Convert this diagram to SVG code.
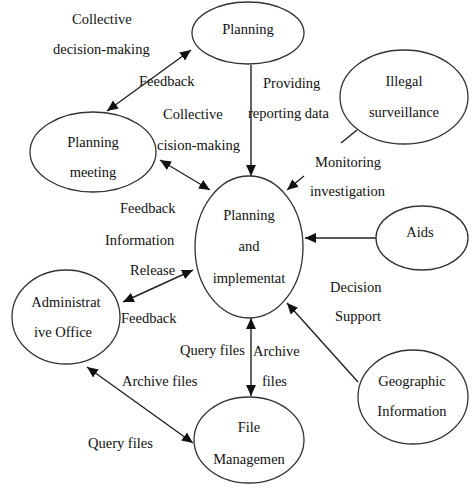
<svg xmlns="http://www.w3.org/2000/svg" width="474" height="496" viewBox="0 0 474 496">
<style>
.n{fill:#fff;stroke:#333;stroke-width:1.3}
.t{font-family:"Liberation Serif",serif;font-size:14.5px;fill:#111;text-anchor:middle}
.s{font-family:"Liberation Serif",serif;font-size:14.5px;fill:#111}
.c{stroke:#222;stroke-width:1.4;fill:none}
</style>
<defs>
<marker id="a" viewBox="0 0 10 10" refX="10" refY="5" markerWidth="11" markerHeight="11" markerUnits="userSpaceOnUse" orient="auto-start-reverse">
<path d="M0,0.5 L10,5 L0,9.5 Z" fill="#111"/>
</marker>
</defs>
<rect width="474" height="496" fill="#fff"/>
<g id="labels">
<text class="s" x="72" y="24" font-family="Liberation Serif">Collective</text>
<text class="s" x="53" y="54" font-family="Liberation Serif">decision-making</text>
<text class="s" x="139" y="86" font-family="Liberation Serif">Feedback</text>
<text class="s" x="163" y="119" font-family="Liberation Serif">Collective</text>
<text class="s" x="157" y="150" font-family="Liberation Serif">cision-making</text>
<text class="s" x="263" y="88" font-family="Liberation Serif">Providing</text>
<text class="s" x="248" y="118" font-family="Liberation Serif">reporting data</text>
<text class="s" x="315" y="167" font-family="Liberation Serif">Monitoring</text>
<text class="s" x="310" y="196" font-family="Liberation Serif">investigation</text>
<text class="s" x="120" y="213" font-family="Liberation Serif">Feedback</text>
<text class="s" x="105" y="245" font-family="Liberation Serif">Information</text>
<text class="s" x="130" y="275" font-family="Liberation Serif">Release</text>
<text class="s" x="121" y="323" font-family="Liberation Serif">Feedback</text>
<text class="s" x="330" y="292" font-family="Liberation Serif">Decision</text>
<text class="s" x="335" y="321" font-family="Liberation Serif">Support</text>
<text class="s" x="180" y="355" font-family="Liberation Serif">Query files</text>
<text class="s" x="253" y="356" font-family="Liberation Serif">Archive</text>
<text class="s" x="262" y="386" font-family="Liberation Serif">files</text>
<text class="s" x="122" y="386" font-family="Liberation Serif">Archive files</text>
<text class="s" x="88" y="448" font-family="Liberation Serif">Query files</text>
</g>
<g id="connectors">
<line class="c" x1="107" y1="111" x2="191" y2="50" marker-start="url(#a)" marker-end="url(#a)"/>
<line class="c" x1="251" y1="65" x2="251" y2="176" marker-end="url(#a)"/>
<line class="c" x1="160" y1="160" x2="210" y2="190" marker-start="url(#a)" marker-end="url(#a)"/>
<line class="c" x1="357" y1="130" x2="341" y2="143"/>
<line class="c" x1="304" y1="176" x2="287" y2="190" marker-end="url(#a)"/>
<line class="c" x1="377" y1="238" x2="305" y2="238" marker-end="url(#a)"/>
<line class="c" x1="358" y1="382" x2="287" y2="303" marker-end="url(#a)"/>
<line class="c" x1="251" y1="318" x2="251" y2="396" marker-start="url(#a)" marker-end="url(#a)"/>
<line class="c" x1="123" y1="302" x2="193" y2="270" marker-start="url(#a)" marker-end="url(#a)"/>
<line class="c" x1="87" y1="367" x2="193" y2="443" marker-start="url(#a)" marker-end="url(#a)"/>
</g>
<g id="planning">
<ellipse class="n" cx="248" cy="33" rx="56" ry="31"/>
<text class="t" x="248" y="34" font-family="Liberation Serif">Planning</text>
</g>
<g id="planning-meeting">
<ellipse class="n" cx="93" cy="152" rx="63" ry="40"/>
<text class="t" x="93" y="147" font-family="Liberation Serif">Planning</text>
<text class="t" x="93" y="177" font-family="Liberation Serif">meeting</text>
</g>
<g id="planning-implementation">
<ellipse class="n" cx="249" cy="247" rx="54" ry="71"/>
<text class="t" x="249" y="220" font-family="Liberation Serif">Planning</text>
<text class="t" x="249" y="251" font-family="Liberation Serif">and</text>
<text class="t" x="249" y="283" font-family="Liberation Serif">implementat</text>
</g>
<g id="illegal-surveillance">
<ellipse class="n" cx="404" cy="97" rx="64" ry="47"/>
<text class="t" x="404" y="86" font-family="Liberation Serif">Illegal</text>
<text class="t" x="404" y="117" font-family="Liberation Serif">surveillance</text>
</g>
<g id="aids">
<ellipse class="n" cx="422" cy="238" rx="46" ry="32"/>
<text class="t" x="420" y="237" font-family="Liberation Serif">Aids</text>
</g>
<g id="administrative-office">
<ellipse class="n" cx="66" cy="317" rx="54" ry="47"/>
<text class="t" x="66" y="307" font-family="Liberation Serif">Administrat</text>
<text class="t" x="63" y="337" font-family="Liberation Serif">ive Office</text>
</g>
<g id="file-management">
<ellipse class="n" cx="249" cy="440" rx="55" ry="43"/>
<text class="t" x="249" y="432" font-family="Liberation Serif">File</text>
<text class="t" x="249" y="464" font-family="Liberation Serif">Managemen</text>
</g>
<g id="geographic-information">
<ellipse class="n" cx="413" cy="397" rx="55" ry="47"/>
<text class="t" x="412" y="386" font-family="Liberation Serif">Geographic</text>
<text class="t" x="412" y="416" font-family="Liberation Serif">Information</text>
</g>
</svg>
